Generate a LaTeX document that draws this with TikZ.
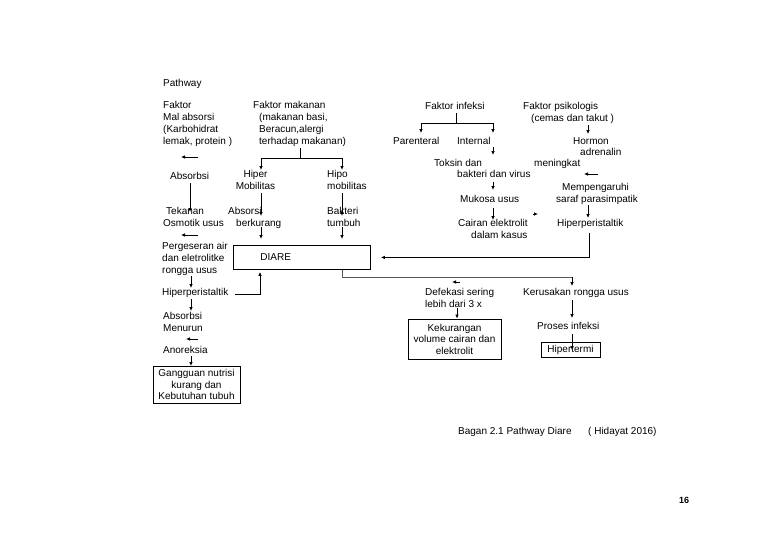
\documentclass[tikz,border=0pt]{standalone}
\usepackage{fontspec}
\setmainfont{Liberation Sans}
\usetikzlibrary{arrows.meta,positioning}

\tikzset{
  txt/.style={font=\fontsize{10}{12}\selectfont, inner sep=0pt, align=left, anchor=north west},
  boxnode/.style={draw, line width=0.9pt, font=\fontsize{10}{11.5}\selectfont, align=center, inner sep=0pt},
  arr/.style={-{Latex[length=4pt,width=3.6pt]}, line width=0.8pt},
  ln/.style={line width=0.8pt}
}

\begin{document}
\begin{tikzpicture}[x=1pt,y=-1pt]
    \useasboundingbox[fill=white] (0,0) rectangle (768,543);

    % left column
    \node[txt] (pathway) at (163,79) {Pathway};
    \node[txt] (malabs) at (163,101) {Faktor\\Mal absorsi\\(Karbohidrat\\lemak, protein )};
    \node[txt] (absorbsi) at (170,172) {Absorbsi};
    \node[txt] (tekanan) at (163,207) {\hspace*{3pt}Tekanan\\Osmotik usus};
    \node[txt] (pergeseran) at (162,242) {Pergeseran air\\dan eletrolitke\\rongga usus};
    \node[txt] (hiper1) at (162,288) {Hiperperistaltik};
    \node[txt] (absmenurun) at (163,312) {Absorbsi\\Menurun};
    \node[txt] (anoreksia) at (163,346) {Anoreksia};
    \node[boxnode, minimum width=87pt, minimum height=37pt] (gangguan) at (196.5,384.5)
        {Gangguan nutrisi\\kurang dan\\Kebutuhan tubuh};

    % middle column
    \node[txt] (makanan) at (253,101) {Faktor makanan\\\hspace*{6pt}(makanan basi,\\\hspace*{6pt}Beracun,alergi\\\hspace*{6pt}terhadap makanan)};
    \node[txt, align=center, anchor=north] (hipermob) at (255.5,170) {Hiper\\Mobilitas};
    \node[txt] (hipomob) at (327,170) {Hipo\\mobilitas};
    \node[txt] (absberk) at (228,207) {Absorsi\\\hspace*{8pt}berkurang};
    \node[txt] (bakteri) at (327,207) {Bakteri\\tumbuh};
    \node[draw, line width=0.9pt, font=\fontsize{10}{12}\selectfont, anchor=north west,
        minimum width=137pt, minimum height=24pt, text width=83pt, inner xsep=27pt,
        inner ysep=0pt, align=left] (diare) at (233,245) {DIARE};

    % right column
    \node[txt] (infeksi) at (425,102) {Faktor infeksi};
    \node[txt] (parenteral) at (393,137) {Parenteral};
    \node[txt] (internal) at (457,137) {Internal};
    \node[txt] (toksin) at (434,159) {Toksin dan};
    \node[txt] (bakvirus) at (457,170) {bakteri dan virus};
    \node[txt] (mukosa) at (460,195) {Mukosa usus};
    \node[txt] (cairan) at (458,219) {Cairan elektrolit\\\hspace*{13pt}dalam kasus};
    \node[txt] (psikologis) at (523,102) {Faktor psikologis\\\hspace*{8pt}(cemas dan takut )};
    \node[txt, font=\fontsize{10}{11}\selectfont] (hormon) at (534,137)
        {\hspace*{39pt}Hormon\\\hspace*{46pt}adrenalin\\meningkat};
    \node[txt] (mempengaruhi) at (556,183) {\hspace*{6pt}Mempengaruhi\\saraf parasimpatik};
    \node[txt] (hiper2) at (557,219) {Hiperperistaltik};

    % bottom
    \node[txt] (defekasi) at (425,288) {Defekasi sering\\lebih dari 3 x};
    \node[txt] (kerusakan) at (523,288) {Kerusakan rongga usus};
    \node[txt] (proses) at (537,322) {Proses infeksi};
    \node[boxnode, minimum width=93pt, minimum height=40pt] (kekurangan) at (454.5,339)
        {Kekurangan\\volume cairan dan\\elektrolit};
    \node[boxnode, minimum width=59pt, minimum height=15pt] (hipertermi) at (570.5,349.5) {Hipertermi};
    \node[txt] (bagan) at (458,427) {Bagan 2.1 Pathway Diare};
    \node[txt] (hidayat) at (588,427) {( Hidayat 2016)};
    \node[txt, font=\fontsize{9}{10}\selectfont\bfseries] (hal) at (679,497) {16};

    % arrow ends
    \coordinate (l1a) at (198,157); \coordinate (l1b) at (181,157);
    \coordinate (l2a) at (190,183); \coordinate (l2b) at (190,212);
    \coordinate (l3a) at (198,235); \coordinate (l3b) at (181,235);
    \coordinate (l4a) at (191,276); \coordinate (l4b) at (191,288);
    \coordinate (l5a) at (235,294);
    \coordinate (l6a) at (191,299); \coordinate (l6b) at (191,311);
    \coordinate (l7a) at (198,339); \coordinate (l7b) at (186,339);
    \coordinate (l8a) at (191,356); \coordinate (l8b) at (191,366);
    \coordinate (mka) at (300,148); \coordinate (mkb) at (300,158);
    \coordinate (hpa) at (261,170); \coordinate (hoa) at (342,170);
    \coordinate (m1a) at (261,193); \coordinate (m1b) at (261,216);
    \coordinate (m2a) at (261,227); \coordinate (m2b) at (261,239);
    \coordinate (m3a) at (342,193); \coordinate (m3b) at (342,216);
    \coordinate (m4a) at (342,227); \coordinate (m4b) at (342,239);
    \coordinate (dia) at (342,277); \coordinate (dib) at (572,277); \coordinate (dic) at (572,286);
    \coordinate (dfa) at (460,282); \coordinate (dfb) at (452,282);
    \coordinate (kka) at (457,308);
    \coordinate (ksa) at (572,300); \coordinate (ksb) at (572,318);
    \coordinate (psa) at (572,334); \coordinate (psb) at (572,350);
    \coordinate (ifa) at (456,113); \coordinate (ifb) at (456,123);
    \coordinate (pta) at (421,133); \coordinate (ita) at (493,133);
    \coordinate (r1a) at (493,147); \coordinate (r1b) at (493,155);
    \coordinate (r2a) at (493,182); \coordinate (r2b) at (493,190);
    \coordinate (r3a) at (493,208); \coordinate (r3b) at (493,220);
    \coordinate (r4a) at (588,125); \coordinate (r4b) at (588,134);
    \coordinate (r5a) at (598,174); \coordinate (r5b) at (584,174);
    \coordinate (r6a) at (588,205); \coordinate (r6b) at (588,218);
    \coordinate (r7a) at (533,214); \coordinate (r7b) at (538,214);
    \coordinate (r8a) at (589,233);

    % left connectors
    \draw[arr] (l1a) -- (l1b);
    \draw[arr] (l2a) -- (l2b);
    \draw[arr] (l3a) -- (l3b);
    \draw[arr] (l4a) -- (l4b);
    \draw[arr, shorten >=2pt] (l5a) -| ([xshift=27pt]diare.south west);
    \draw[arr] (l6a) -- (l6b);
    \draw[arr] (l7a) -- (l7b);
    \draw[arr] (l8a) -- (l8b);

    % middle connectors
    \draw[ln] (mka) -- (mkb);
    \draw[arr] (mkb) -| (hpa);
    \draw[arr] (mkb) -| (hoa);
    \draw[arr] (m1a) -- (m1b);
    \draw[arr] (m2a) -- (m2b);
    \draw[arr] (m3a) -- (m3b);
    \draw[arr] (m4a) -- (m4b);
    \draw[ln, line width=0.6pt, black!65] (diare.south -| dia) -- (dia) -- (dib);
    \draw[arr] (dib) -- (dic);
    \draw[arr] (dfa) -- (dfb);
    \draw[arr] (kka) -- (kekurangan.north -| kka);
    \draw[arr] (ksa) -- (ksb);
    \draw[arr] (psa) -- (psb);

    % right connectors
    \draw[ln] (ifa) -- (ifb);
    \draw[arr] (ifb) -| (pta);
    \draw[arr] (ifb) -| (ita);
    \draw[arr] (r1a) -- (r1b);
    \draw[arr] (r2a) -- (r2b);
    \draw[arr] (r3a) -- (r3b);
    \draw[arr] (r4a) -- (r4b);
    \draw[arr] (r5a) -- (r5b);
    \draw[arr] (r6a) -- (r6b);
    \draw[arr] (r7a) -- (r7b);
    \draw[arr, shorten >=10pt] (r8a) |- (diare.east);
\end{tikzpicture}
\end{document}
